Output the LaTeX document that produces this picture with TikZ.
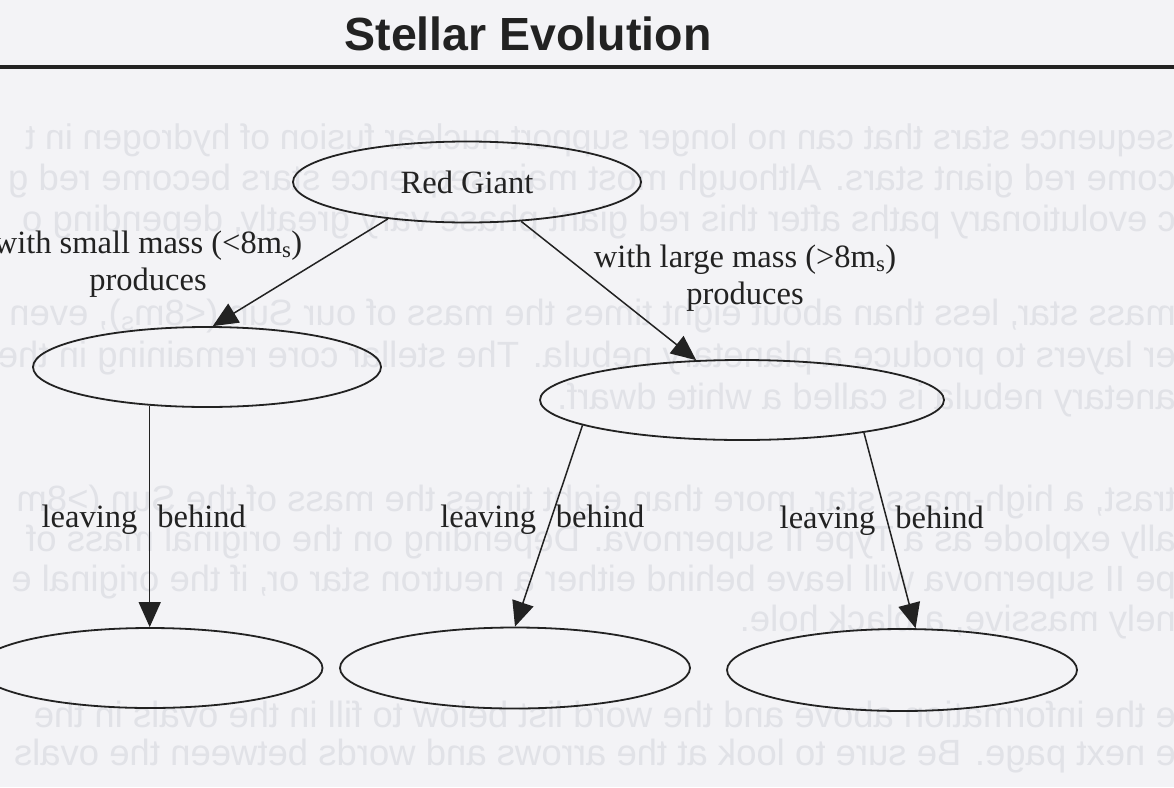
\documentclass[tikz,border=0pt]{standalone}
\usepackage{fontspec}
\usepackage{graphicx}
\usepackage{tikz}
\usetikzlibrary{shapes.geometric,arrows.meta}
\setmainfont{Liberation Serif}
\newfontfamily\headfont{Liberation Sans}
\definecolor{paper}{RGB}{243,243,246}
\definecolor{ink}{RGB}{34,34,34}
\definecolor{faint}{RGB}{225,226,231}
\newcommand{\lblfont}{\fontsize{32.5}{37}\selectfont}
\newcommand{\ghostfont}{\headfont\fontsize{36.5}{41}\selectfont}

\begin{document}
\begin{tikzpicture}[x=1pt,y=-1pt,
	oval/.style={shape=ellipse,draw=ink,line width=1.8pt,inner sep=0pt},
	lbl/.style={text=ink,font=\lblfont,inner sep=0pt},
	arr/.style={-{Triangle[length=25pt,width=22pt]},line width=1.5pt,color=ink},
	ghost/.style={anchor=base east,text=faint,font=\ghostfont,inner sep=0pt}]
	\useasboundingbox (0,0) rectangle (1174,787);
	\fill[paper] (0,0) rectangle (1174,787);

	\node[ghost,font=\headfont\fontsize{35.5}{41}\selectfont] (g1) at (1174,149) {\reflectbox{sequence stars that can no longer support nuclear fusion of hydrogen in t}};
	\node[ghost] (g2) at (1176,190) {\reflectbox{come red giant stars. Although most main sequence stars become red g}};
	\node[ghost] (g3) at (1176,231) {\reflectbox{c evolutionary paths after this red giant phase vary greatly, depending o}};
	\node[ghost] (g4) at (1176,325) {\reflectbox{mass star, less than about eight times the mass of our Sun (<8m\textsubscript{s}), even}};
	\node[ghost] (g5) at (1176,367) {\reflectbox{er layers to produce a planetary nebula. The stellar core remaining in the}};
	\node[ghost] (g6) at (1176,409) {\reflectbox{anetary nebula is called a white dwarf.}};
	\node[ghost] (g7) at (1176,511) {\reflectbox{trast, a high-mass star, more than eight times the mass of the Sun (>8m}};
	\node[ghost] (g8) at (1176,551) {\reflectbox{ally explode as a Type II supernova. Depending on the original mass of}};
	\node[ghost] (g9) at (1176,591) {\reflectbox{pe II supernova will leave behind either a neutron star or, if the original e}};
	\node[ghost] (g10) at (1176,631) {\reflectbox{nely massive, a black hole.}};
	\node[ghost] (g11) at (1176,727) {\reflectbox{e the information above and the word list below to fill in the ovals in the}};
	\node[ghost] (g12) at (1176,765) {\reflectbox{e next page. Be sure to look at the arrows and words between the ovals}};

	\node[text=ink,font=\headfont\bfseries\fontsize{46.5}{50}\selectfont,anchor=base] (title) at (528,50) {Stellar Evolution};
	\coordinate (ruleL) at (0,67);
	\coordinate (ruleR) at (1174,67);
	\draw[ink,line width=4pt] (ruleL) -- (ruleR);

	\node[oval,lbl,minimum width=348pt,minimum height=81pt] (rg) at (467,182) {Red Giant};
	\node[oval,minimum width=348pt,minimum height=80pt] (pn) at (207,367) {};
	\node[oval,minimum width=404pt,minimum height=80pt] (sn) at (742,400) {};
	\node[oval,minimum width=345pt,minimum height=80pt] (wd) at (150,668) {};
	\node[oval,minimum width=350pt,minimum height=81pt] (ns) at (515,668) {};
	\node[oval,minimum width=350pt,minimum height=82pt] (bh) at (902,670) {};

	\node[lbl,align=center] (small) at (148,264) {with small mass (<8m\textsubscript{s})\\produces};
	\node[lbl,align=center] (large) at (745,278) {with large mass (>8m\textsubscript{s})\\produces};

	\path[arr] (rg.205) edge (pn.82);
	\path[arr] (rg.324) edge (sn.139);
	\path[arr] (pn.214) edge node[lbl,pos=0.493,xshift=-6pt,yshift=-5pt] (lv1) {leaving\hspace{20pt}behind} (pn.214 |- wd.north);
	\path[arr] (sn.189) edge node[lbl,pos=0.446,xshift=-10pt,yshift=-5pt] (lv2) {leaving\hspace{20pt}behind} (ns.north);
	\path[arr] (sn.345) edge node[lbl,pos=0.423,xshift=-4pt,yshift=-5pt] (lv3) {leaving\hspace{20pt}behind} (bh.72);
\end{tikzpicture}
\end{document}
